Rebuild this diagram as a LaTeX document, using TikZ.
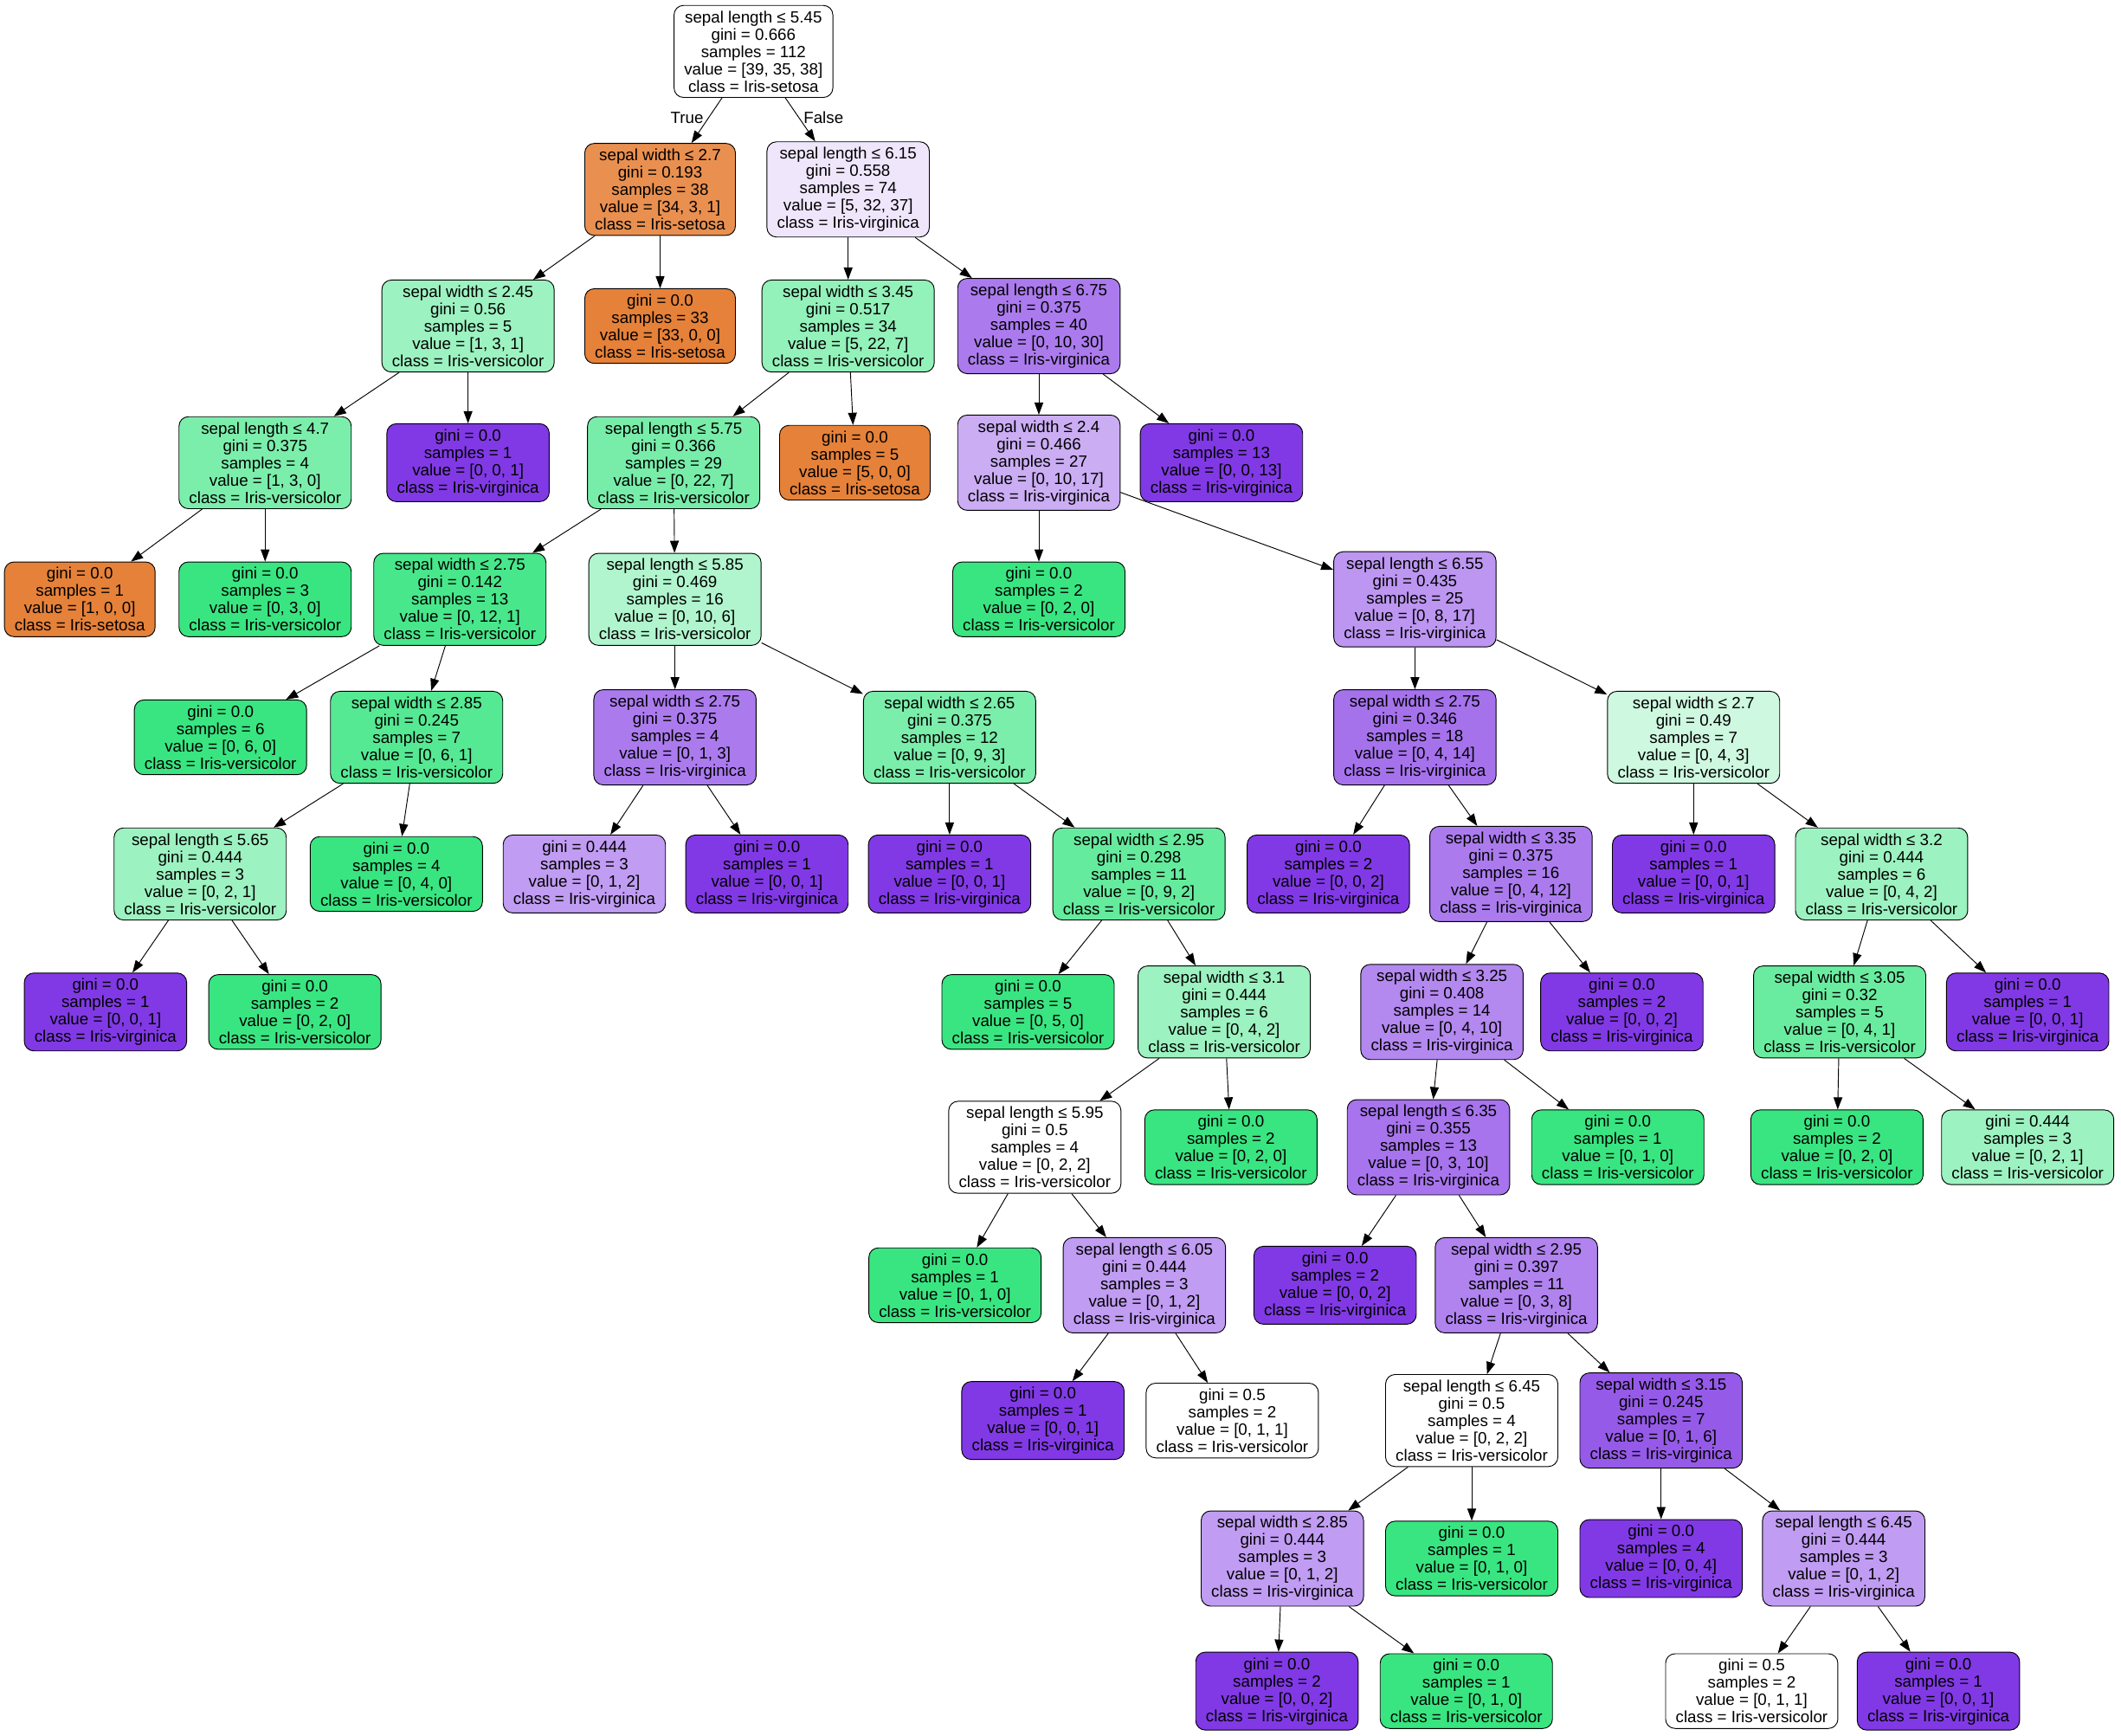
\documentclass[tikz,border=0pt]{standalone}
\usepackage{fontspec}
\setmainfont{Liberation Sans}
\usetikzlibrary{arrows.meta}
\tikzset{
 tn/.style={draw=black,rounded corners=7pt,align=center,inner xsep=7.5pt,inner ysep=4pt,
   font=\fontsize{12}{12.8}\selectfont,line width=0.6pt},
 ed/.style={-{Triangle[length=9pt,width=6.5pt]},black,line width=0.6pt}
}
\newcommand\inode[9]{\definecolor{f#1}{HTML}{#4}\node[tn,fill=f#1] (#1) at (#2,#3) {#5\\gini = #6\\samples = #7\\value = #8\\class = #9};}
\newcommand\lnode[8]{\definecolor{f#1}{HTML}{#4}\node[tn,fill=f#1] (#1) at (#2,#3) {gini = #5\\samples = #6\\value = #7\\class = #8};}
\begin{document}
\begin{tikzpicture}[x=1pt,y=-1pt]
\useasboundingbox (0,0) rectangle (1568,1283);
\inode{n0}{557}{38}{FFFFFF}{sepal length ≤ 5.45}{0.666}{112}{[39, 35, 38]}{Iris-setosa}
\inode{n1}{488}{140}{E99050}{sepal width ≤ 2.7}{0.193}{38}{[34, 3, 1]}{Iris-setosa}
\inode{n2}{627}{140}{F0E6FC}{sepal length ≤ 6.15}{0.558}{74}{[5, 32, 37]}{Iris-virginica}
\inode{n3}{346}{241}{9CF2C0}{sepal width ≤ 2.45}{0.56}{5}{[1, 3, 1]}{Iris-versicolor}
\lnode{n4}{488}{241}{E58139}{0.0}{33}{[33, 0, 0]}{Iris-setosa}
\inode{n5}{627}{241}{93F1BA}{sepal width ≤ 3.45}{0.517}{34}{[5, 22, 7]}{Iris-versicolor}
\inode{n6}{768}{241}{AB7BEE}{sepal length ≤ 6.75}{0.375}{40}{[0, 10, 30]}{Iris-virginica}
\inode{n7}{196}{342}{7BEEAB}{sepal length ≤ 4.7}{0.375}{4}{[1, 3, 0]}{Iris-versicolor}
\lnode{n8}{346}{342}{8139E5}{0.0}{1}{[0, 0, 1]}{Iris-virginica}
\inode{n9}{498}{342}{78EDA9}{sepal length ≤ 5.75}{0.366}{29}{[0, 22, 7]}{Iris-versicolor}
\lnode{n10}{632}{342}{E58139}{0.0}{5}{[5, 0, 0]}{Iris-setosa}
\inode{n11}{768}{342}{CBADF4}{sepal width ≤ 2.4}{0.466}{27}{[0, 10, 17]}{Iris-virginica}
\lnode{n12}{903}{342}{8139E5}{0.0}{13}{[0, 0, 13]}{Iris-virginica}
\lnode{n13}{59}{443}{E58139}{0.0}{1}{[1, 0, 0]}{Iris-setosa}
\lnode{n14}{196}{443}{39E581}{0.0}{3}{[0, 3, 0]}{Iris-versicolor}
\inode{n15}{340}{443}{48E78B}{sepal width ≤ 2.75}{0.142}{13}{[0, 12, 1]}{Iris-versicolor}
\inode{n16}{499}{443}{B0F5CD}{sepal length ≤ 5.85}{0.469}{16}{[0, 10, 6]}{Iris-versicolor}
\lnode{n17}{768}{443}{39E581}{0.0}{2}{[0, 2, 0]}{Iris-versicolor}
\inode{n18}{1046}{443}{BC96F1}{sepal length ≤ 6.55}{0.435}{25}{[0, 8, 17]}{Iris-virginica}
\lnode{n19}{163}{545}{39E581}{0.0}{6}{[0, 6, 0]}{Iris-versicolor}
\inode{n20}{308}{545}{55E993}{sepal width ≤ 2.85}{0.245}{7}{[0, 6, 1]}{Iris-versicolor}
\inode{n21}{499}{545}{AB7BEE}{sepal width ≤ 2.75}{0.375}{4}{[0, 1, 3]}{Iris-virginica}
\inode{n22}{702}{545}{7BEEAB}{sepal width ≤ 2.65}{0.375}{12}{[0, 9, 3]}{Iris-versicolor}
\inode{n23}{1046}{545}{A572EC}{sepal width ≤ 2.75}{0.346}{18}{[0, 4, 14]}{Iris-virginica}
\inode{n24}{1252}{545}{CEF8E0}{sepal width ≤ 2.7}{0.49}{7}{[0, 4, 3]}{Iris-versicolor}
\inode{n25}{148}{646}{9CF2C0}{sepal length ≤ 5.65}{0.444}{3}{[0, 2, 1]}{Iris-versicolor}
\lnode{n26}{293}{646}{39E581}{0.0}{4}{[0, 4, 0]}{Iris-versicolor}
\lnode{n27}{432}{646}{C09CF2}{0.444}{3}{[0, 1, 2]}{Iris-virginica}
\lnode{n28}{567}{646}{8139E5}{0.0}{1}{[0, 0, 1]}{Iris-virginica}
\lnode{n29}{702}{646}{8139E5}{0.0}{1}{[0, 0, 1]}{Iris-virginica}
\inode{n30}{842}{646}{65EB9D}{sepal width ≤ 2.95}{0.298}{11}{[0, 9, 2]}{Iris-versicolor}
\lnode{n31}{982}{646}{8139E5}{0.0}{2}{[0, 0, 2]}{Iris-virginica}
\inode{n32}{1117}{646}{AB7BEE}{sepal width ≤ 3.35}{0.375}{16}{[0, 4, 12]}{Iris-virginica}
\lnode{n33}{1252}{646}{8139E5}{0.0}{1}{[0, 0, 1]}{Iris-virginica}
\inode{n34}{1391}{646}{9CF2C0}{sepal width ≤ 3.2}{0.444}{6}{[0, 4, 2]}{Iris-versicolor}
\lnode{n35}{78}{748}{8139E5}{0.0}{1}{[0, 0, 1]}{Iris-virginica}
\lnode{n36}{218}{748}{39E581}{0.0}{2}{[0, 2, 0]}{Iris-versicolor}
\lnode{n37}{760}{748}{39E581}{0.0}{5}{[0, 5, 0]}{Iris-versicolor}
\inode{n38}{905}{748}{9CF2C0}{sepal width ≤ 3.1}{0.444}{6}{[0, 4, 2]}{Iris-versicolor}
\inode{n39}{1066}{748}{B388EF}{sepal width ≤ 3.25}{0.408}{14}{[0, 4, 10]}{Iris-virginica}
\lnode{n40}{1199}{748}{8139E5}{0.0}{2}{[0, 0, 2]}{Iris-virginica}
\inode{n41}{1360}{748}{6AECA0}{sepal width ≤ 3.05}{0.32}{5}{[0, 4, 1]}{Iris-versicolor}
\lnode{n42}{1499}{748}{8139E5}{0.0}{1}{[0, 0, 1]}{Iris-virginica}
\inode{n43}{765}{848}{FFFFFF}{sepal length ≤ 5.95}{0.5}{4}{[0, 2, 2]}{Iris-versicolor}
\lnode{n44}{910}{848}{39E581}{0.0}{2}{[0, 2, 0]}{Iris-versicolor}
\inode{n45}{1056}{848}{A774ED}{sepal length ≤ 6.35}{0.355}{13}{[0, 3, 10]}{Iris-virginica}
\lnode{n46}{1196}{848}{39E581}{0.0}{1}{[0, 1, 0]}{Iris-versicolor}
\lnode{n47}{1358}{848}{39E581}{0.0}{2}{[0, 2, 0]}{Iris-versicolor}
\lnode{n48}{1499}{848}{9CF2C0}{0.444}{3}{[0, 2, 1]}{Iris-versicolor}
\lnode{n49}{706}{950}{39E581}{0.0}{1}{[0, 1, 0]}{Iris-versicolor}
\inode{n50}{846}{950}{C09CF2}{sepal length ≤ 6.05}{0.444}{3}{[0, 1, 2]}{Iris-virginica}
\lnode{n51}{987}{950}{8139E5}{0.0}{2}{[0, 0, 2]}{Iris-virginica}
\inode{n52}{1121}{950}{B083EF}{sepal width ≤ 2.95}{0.397}{11}{[0, 3, 8]}{Iris-virginica}
\lnode{n53}{771}{1050}{8139E5}{0.0}{1}{[0, 0, 1]}{Iris-virginica}
\lnode{n54}{911}{1050}{FFFFFF}{0.5}{2}{[0, 1, 1]}{Iris-versicolor}
\inode{n55}{1088}{1050}{FFFFFF}{sepal length ≤ 6.45}{0.5}{4}{[0, 2, 2]}{Iris-versicolor}
\inode{n56}{1228}{1050}{965AE9}{sepal width ≤ 3.15}{0.245}{7}{[0, 1, 6]}{Iris-virginica}
\inode{n57}{948}{1152}{C09CF2}{sepal width ≤ 2.85}{0.444}{3}{[0, 1, 2]}{Iris-virginica}
\lnode{n58}{1088}{1152}{39E581}{0.0}{1}{[0, 1, 0]}{Iris-versicolor}
\lnode{n59}{1228}{1152}{8139E5}{0.0}{4}{[0, 0, 4]}{Iris-virginica}
\inode{n60}{1363}{1152}{C09CF2}{sepal length ≤ 6.45}{0.444}{3}{[0, 1, 2]}{Iris-virginica}
\lnode{n61}{944}{1250}{8139E5}{0.0}{2}{[0, 0, 2]}{Iris-virginica}
\lnode{n62}{1084}{1250}{39E581}{0.0}{1}{[0, 1, 0]}{Iris-versicolor}
\lnode{n63}{1295}{1250}{FFFFFF}{0.5}{2}{[0, 1, 1]}{Iris-versicolor}
\lnode{n64}{1433}{1250}{8139E5}{0.0}{1}{[0, 0, 1]}{Iris-virginica}
\draw[ed] (n0) -- node[pos=0.45,left,font=\fontsize{12}{12}\selectfont]{True} (n1);
\draw[ed] (n0) -- node[pos=0.45,right,font=\fontsize{12}{12}\selectfont]{False} (n2);
\foreach \a/\b in {1/3,1/4,2/5,2/6,3/7,3/8,5/9,5/10,6/11,6/12,7/13,7/14,9/15,9/16,11/17,11/18,
 15/19,15/20,16/21,16/22,18/23,18/24,20/25,20/26,21/27,21/28,22/29,22/30,23/31,23/32,24/33,24/34,
 25/35,25/36,30/37,30/38,32/39,32/40,34/41,34/42,38/43,38/44,39/45,39/46,41/47,41/48,43/49,43/50,
 45/51,45/52,50/53,50/54,52/55,52/56,55/57,55/58,56/59,56/60,57/61,57/62,60/63,60/64}
 \draw[ed] (n\a) -- (n\b);
\end{tikzpicture}
\end{document}
